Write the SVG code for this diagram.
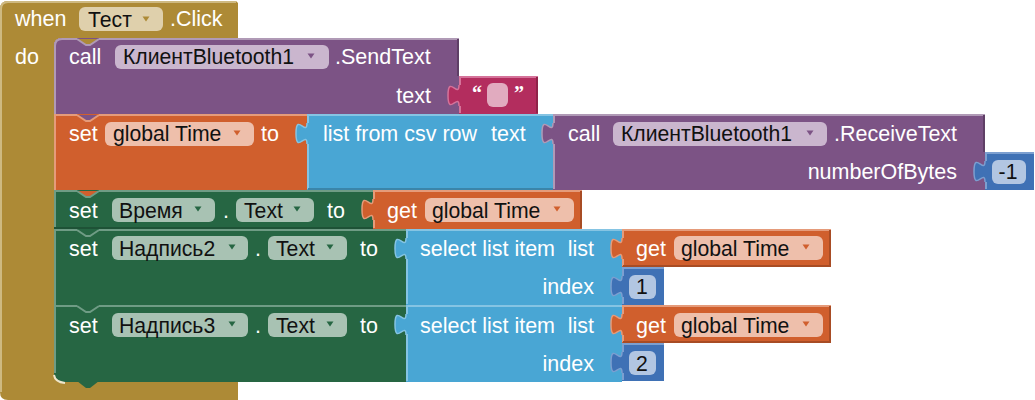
<svg xmlns="http://www.w3.org/2000/svg" width="1035" height="400" viewBox="0 0 1035 400">
<style>
text{font-family:"Liberation Sans",Arial,sans-serif;font-size:21.5px;fill:#fff}
.f{fill:#111;font-size:21.2px}
.m{text-anchor:middle}
.e{text-anchor:end}
.q{font-family:"Liberation Serif",serif;font-weight:bold;font-size:20px}
.go{fill:#AD8A36}.pu{fill:#7C5385}.or{fill:#D05F2D}.bl{fill:#49A6D4}.gr{fill:#266643}.pk{fill:#B32D5E}.db{fill:#3F71B5}
.fgo{fill:#DFD0AC}.fpu{fill:#CAB6CE}.for{fill:#EEBFAB}.fgr{fill:#A8C2B3}.fpk{fill:#E1ABBF}.fdb{fill:#B2C6E2}
.s{fill:none;stroke-width:2}
.hgo{stroke:#CEB981}.hpu{stroke:#B09AB6}.hor{stroke:#E59B7A}.hbl{stroke:#85C4E3}.hgr{stroke:#6F9C85}.hpk{stroke:#D5739A}.hdb{stroke:#7C9FD0}
.dgo{stroke:#8C6F2B}.dpu{stroke:#5F3F66}.dor{stroke:#A84C24}.dbl{stroke:#3A85AA}.dgr{stroke:#1E5236}.dpk{stroke:#8F2449}.ddb{stroke:#325A91}
.t{stroke-width:1.5}
</style>
<defs>
<path id="tab" d="M0 9C0 23 -11 -2 -11 19.500S0 16 0 30"/>
<path id="notch" d="M0 0L9 6H13L22 0" stroke-width="2"/>
<path id="arr" d="M-3.500 -2.500H3.500L0 2.500Z"/>
</defs>

<g id="when">
<path class="go" d="M8 1H236L238 3V38H62Q54 38 54 46V374Q54 382 62 382H238V400H8Q0 400 0 392V9Q0 1 8 1Z"/>
<path class="s hgo" d="M1 392V9Q1 2 8 2H236"/>
<rect class="fgo" x="79" y="7" width="84" height="24" rx="6"/>
<text x="15" y="26">when</text><text class="f" x="88" y="27">Тест</text>
<use href="#arr" class="go" x="146" y="19"/>
<text x="170" y="26">.Click</text>
<text x="15" y="64">do</text>
</g>

<g id="green3">
<path class="gr" d="M54 305H406V382H62Q54 382 54 374Z"/>
<path class="s hgr" d="M55 373V306"/>
<path d="M54 375Q55 382 65 383" fill="none" stroke="#EFE6CC" stroke-width="2"/>
<use href="#notch" class="gr hgr" x="77" y="306"/>
<path class="s hgr" d="M54 306H77M99 306H406"/>
<path class="gr" d="M77 381L86 388H90L99 381Z"/>
<rect class="fgr" x="112" y="313" width="136" height="24" rx="6"/>
<rect class="fgr" x="268" y="313" width="79" height="24" rx="6"/>
<text x="69" y="333">set</text><text class="f" x="119" y="333">Надпись3</text>
<use href="#arr" class="gr" x="232" y="324"/>
<text x="255" y="333">.</text><text class="f" x="276" y="333">Text</text>
<use href="#arr" class="gr" x="330" y="324"/>
<text x="360" y="333">to</text>
</g>
<g id="select2">
<rect class="bl" x="406" y="305" width="216" height="77"/>
<path class="s hbl" d="M407 381V334M407 314V306H622"/>
<use href="#tab" class="bl hbl t" x="406" y="305"/>
<text x="420" y="333">select list item</text><text class="e" x="594" y="333">list</text>
<text class="e" x="594" y="371">index</text>
</g>
<g id="get3">
<rect class="or" x="622" y="305" width="209" height="38"/>
<path class="s hor" d="M623 342V335M623 314V306H831"/>
<path class="s dor" d="M830 306V342H623"/>
<use href="#tab" class="or hor t" x="622" y="305"/>
<rect class="for" x="674" y="313" width="149" height="24" rx="6"/>
<text x="636" y="333">get</text><text class="f" x="681" y="333">global Time</text>
<use href="#arr" class="or" x="806" y="324"/>
</g>
<g id="num2">
<rect class="db" x="622" y="343" width="42" height="38"/>
<path class="s hdb" d="M623 380V373M623 352V344H664"/>
<use href="#tab" class="db hdb t" x="622" y="343"/>
<rect class="fdb" x="629" y="351" width="27" height="24" rx="6"/>
<text class="f m" x="642" y="371">2</text>
</g>

<g id="green2">
<rect class="gr" x="54" y="229" width="352" height="76"/>
<path class="s hgr" d="M55 305V230"/>
<use href="#notch" class="gr hgr" x="77" y="230"/>
<path class="s hgr" d="M54 230H77M99 230H406"/>
<rect class="fgr" x="112" y="236" width="136" height="24" rx="6"/>
<rect class="fgr" x="268" y="236" width="79" height="24" rx="6"/>
<text x="69" y="256">set</text><text class="f" x="119" y="256">Надпись2</text>
<use href="#arr" class="gr" x="232" y="247"/>
<text x="255" y="256">.</text><text class="f" x="276" y="256">Text</text>
<use href="#arr" class="gr" x="330" y="247"/>
<text x="360" y="256">to</text>
</g>
<g id="select1">
<rect class="bl" x="406" y="229" width="216" height="76"/>
<path class="s hbl" d="M407 304V259M407 238V230H622"/>
<use href="#tab" class="bl hbl t" x="406" y="229"/>
<text x="420" y="256">select list item</text><text class="e" x="594" y="256">list</text>
<text class="e" x="594" y="294">index</text>
</g>
<g id="get2">
<rect class="or" x="622" y="229" width="209" height="38"/>
<path class="s hor" d="M623 266V259M623 238V230H831"/>
<path class="s dor" d="M830 230V266H623"/>
<use href="#tab" class="or hor t" x="622" y="229"/>
<rect class="for" x="674" y="236" width="149" height="24" rx="6"/>
<text x="636" y="256">get</text><text class="f" x="681" y="256">global Time</text>
<use href="#arr" class="or" x="806" y="247"/>
</g>
<g id="num1">
<rect class="db" x="622" y="267" width="42" height="38"/>
<path class="s hdb" d="M623 304V297M623 276V268H664"/>
<use href="#tab" class="db hdb t" x="622" y="267"/>
<rect class="fdb" x="629" y="275" width="27" height="24" rx="6"/>
<text class="f m" x="642" y="294">1</text>
</g>

<g id="green1">
<rect class="gr" x="54" y="190" width="319" height="39"/>
<path class="s hgr" d="M55 229V191"/>
<path class="s dgr" d="M54 228H373"/>
<use href="#notch" class="or hgr" x="77" y="191"/>
<path class="s hgr" d="M54 191H77M99 191H373"/>
<rect class="fgr" x="112" y="198" width="103" height="24" rx="6"/>
<rect class="fgr" x="236" y="198" width="78" height="24" rx="6"/>
<text x="69" y="218">set</text><text class="f" x="119" y="218">Время</text>
<use href="#arr" class="gr" x="198" y="209"/>
<text x="223" y="218">.</text><text class="f" x="244" y="218">Text</text>
<use href="#arr" class="gr" x="297" y="209"/>
<text x="327" y="218">to</text>
</g>
<g id="get1">
<rect class="or" x="373" y="190" width="209" height="39"/>
<path class="s hor" d="M374 228V220M374 199V191H582"/>
<path class="s dor" d="M581 191V228"/>
<use href="#tab" class="or hor t" x="373" y="190"/>
<rect class="for" x="425" y="198" width="149" height="24" rx="6"/>
<text x="387" y="218">get</text><text class="f" x="432" y="218">global Time</text>
<use href="#arr" class="or" x="557" y="209"/>
</g>

<g id="setTime">
<rect class="or" x="54" y="114" width="253" height="76"/>
<path class="s hor" d="M55 190V115"/>
<use href="#notch" class="pu hor" x="77" y="115"/>
<path class="s hor" d="M54 115H77M99 115H307"/>
<rect class="for" x="105" y="122" width="149" height="24" rx="6"/>
<text x="69" y="141">set</text><text class="f" x="113" y="141">global Time</text>
<use href="#arr" class="or" x="237" y="133"/>
<text x="261" y="141">to</text>
</g>
<g id="listCsv">
<rect class="bl" x="307" y="114" width="246" height="76"/>
<path class="s hbl" d="M308 189V144M308 123V115H553"/>
<path class="s dbl" d="M308 189H553"/>
<use href="#tab" class="bl hbl t" x="307" y="114"/>
<text x="323" y="141">list from csv row</text><text x="491" y="141">text</text>
</g>
<g id="receive">
<rect class="pu" x="553" y="114" width="432" height="76"/>
<path class="s hpu" d="M554 189V144M554 123V115H985"/>
<path class="s dpu" d="M984 115V152"/>
<use href="#tab" class="pu hpu t" x="553" y="114"/>
<rect class="fpu" x="613" y="122" width="214" height="24" rx="6"/>
<text x="568" y="141">call</text><text class="f" x="621" y="141">КлиентBluetooth1</text>
<use href="#arr" class="pu" x="810" y="133"/>
<text x="834" y="141">.ReceiveText</text>
<text class="e" x="957" y="179">numberOfBytes</text>
</g>
<g id="numNeg">
<rect class="db" x="985" y="152" width="49" height="38"/>
<path class="s hdb" d="M986 189V182M986 161V153H1034"/>
<use href="#tab" class="db hdb t" x="985" y="152"/>
<rect class="fdb" x="992" y="160" width="34" height="24" rx="6"/>
<text class="f m" x="1008" y="179">-1</text>
</g>

<g id="callSend">
<path class="pu" d="M62 38H459V114H54V46Q54 38 62 38Z"/>
<path class="s hpu" d="M55 114V46Q55 39 62 39H77M99 39H459"/>
<use href="#notch" class="go hpu" x="77" y="39"/>
<path class="s dpu" d="M458 39V76"/>
<rect class="fpu" x="115" y="45" width="214" height="24" rx="6"/>
<text x="69" y="64">call</text><text class="f" x="123" y="64">КлиентBluetooth1</text>
<use href="#arr" class="pu" x="311" y="56"/>
<text x="335" y="64">.SendText</text>
<text class="e" x="431" y="103">text</text>
</g>
<g id="textBlock">
<rect class="pk" x="459" y="76" width="79" height="38"/>
<path class="s hpk" d="M460 113V106M460 85V77H538"/>
<path class="s dpk" d="M537 77V113"/>
<use href="#tab" class="pk hpk t" x="459" y="76"/>
<rect class="fpk" x="487" y="83" width="21" height="24" rx="6"/>
<text class="q m" x="477" y="100">“</text><text class="q m" x="519" y="100">”</text>
</g>
</svg>
